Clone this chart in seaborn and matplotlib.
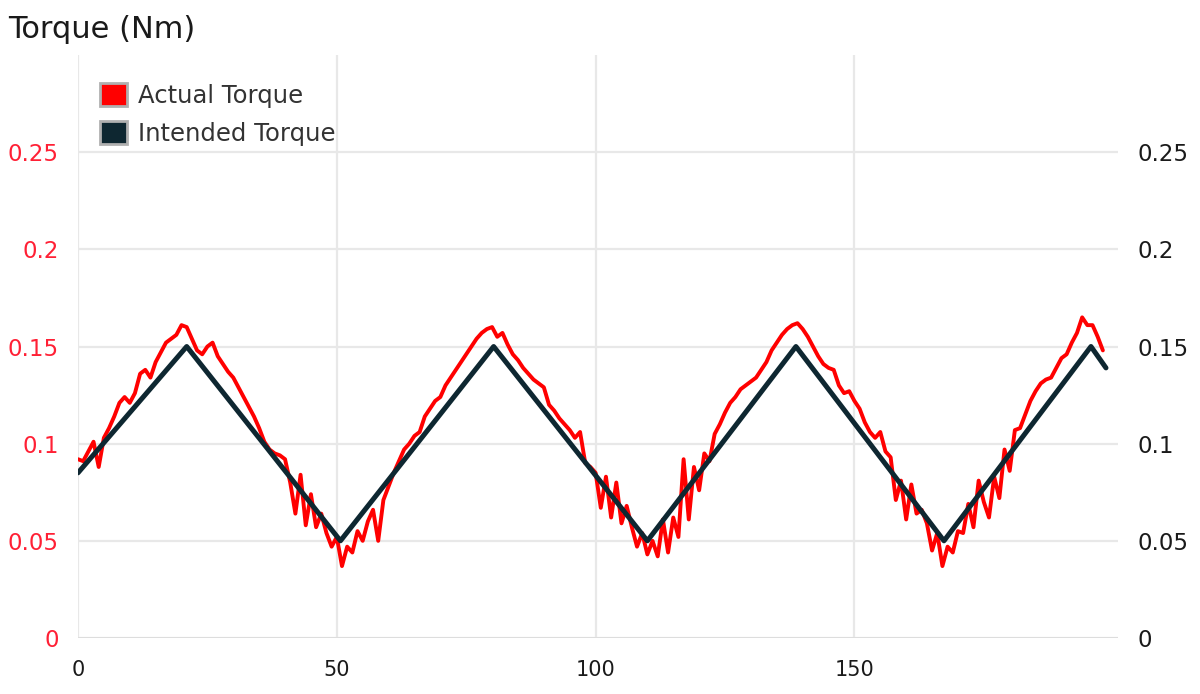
import numpy as np
import pandas as pd
import matplotlib
matplotlib.use("Agg")
import matplotlib.pyplot as plt
from matplotlib.patches import Patch
import seaborn as sns

# actual torque, one sample per step
actual_torque = [
    0.092, 0.091, 0.096, 0.101, 0.088, 0.103, 0.108, 0.114, 0.121, 0.124,
    0.121, 0.126, 0.136, 0.138, 0.134, 0.142, 0.147, 0.152, 0.154, 0.156,
    0.161, 0.160, 0.154, 0.148, 0.146, 0.150, 0.152, 0.145, 0.141, 0.137,
    0.134, 0.129, 0.124, 0.119, 0.114, 0.108, 0.101, 0.097, 0.095, 0.094,
    0.092, 0.080, 0.064, 0.084, 0.058, 0.074, 0.057, 0.064, 0.054, 0.047,
    0.052, 0.037, 0.047, 0.044, 0.055, 0.050, 0.060, 0.066, 0.050, 0.071,
    0.078, 0.085, 0.091, 0.097, 0.100, 0.104, 0.106, 0.114, 0.118, 0.122,
    0.124, 0.130, 0.134, 0.138, 0.142, 0.146, 0.150, 0.154, 0.157, 0.159,
    0.160, 0.155, 0.157, 0.151, 0.146, 0.143, 0.139, 0.136, 0.133, 0.131,
    0.129, 0.120, 0.117, 0.113, 0.110, 0.107, 0.103, 0.106, 0.090, 0.088,
    0.085, 0.067, 0.083, 0.062, 0.080, 0.059, 0.068, 0.057, 0.047, 0.054,
    0.043, 0.050, 0.042, 0.061, 0.044, 0.062, 0.052, 0.092, 0.061, 0.088,
    0.076, 0.095, 0.091, 0.105, 0.110, 0.116, 0.121, 0.124, 0.128, 0.130,
    0.132, 0.134, 0.138, 0.142, 0.148, 0.152, 0.156, 0.159, 0.161, 0.162,
    0.159, 0.155, 0.150, 0.145, 0.141, 0.139, 0.138, 0.130, 0.126, 0.127,
    0.122, 0.118, 0.111, 0.106, 0.103, 0.106, 0.096, 0.093, 0.071, 0.081,
    0.061, 0.079, 0.064, 0.066, 0.059, 0.045, 0.054, 0.037, 0.047, 0.044,
    0.055, 0.054, 0.069, 0.057, 0.081, 0.070, 0.062, 0.083, 0.072, 0.097,
    0.086, 0.107, 0.108, 0.115, 0.122, 0.127, 0.131, 0.133, 0.134, 0.139,
    0.144, 0.146, 0.152, 0.157, 0.165, 0.161, 0.161, 0.155, 0.148,
]
actual_step = list(range(len(actual_torque)))

# intended torque is a triangle wave, given by its corners
intended_step = [0, 21, 50.7, 80.3, 110, 138.7, 167.3, 195.7, 198.6]
intended_torque = [0.085, 0.15, 0.05, 0.15, 0.05, 0.15, 0.05, 0.15, 0.139]

y_ticks = [0, 0.05, 0.1, 0.15, 0.2, 0.25]
y_tick_labels = ["0", "0.05", "0.1", "0.15", "0.2", "0.25"]
x_ticks = [0, 50, 100, 150]

red = "#ff0000"
navy = "#0e2731"

df_act = pd.DataFrame({"step": actual_step, "torque": actual_torque})
df_int = pd.DataFrame({"step": intended_step, "torque": intended_torque})

sns.set_style("white")
plt.rcParams["font.family"] = ["DejaVu Sans"]

fig = plt.figure(figsize=(12, 6.94), dpi=100)
ax = fig.add_axes([0.065, 0.0807, 0.867, 0.84])

sns.lineplot(data=df_act, x="step", y="torque", ax=ax, color=red, lw=2.8, zorder=3)
sns.lineplot(data=df_int, x="step", y="torque", ax=ax, color=navy, lw=3.6, zorder=4)

ax.set_xlim(0, 201)
ax.set_ylim(0, 0.3)
ax.set_xticks(x_ticks)
ax.set_yticks(y_ticks)
ax.set_yticklabels(y_tick_labels)
ax.grid(True, color="#e8e8e8", lw=1.6)
ax.set_axisbelow(True)
for s in ax.spines.values():
    s.set_visible(False)
ax.axhline(0, color="#dcdcdc", lw=2, zorder=1)
ax.tick_params(axis="y", length=0, labelsize=16.5, labelcolor="#ff2035", pad=14)
ax.tick_params(axis="x", length=0, labelsize=15, labelcolor="#1a1a1a", pad=16)
ax.set_xlabel("")
ax.set_ylabel("")

ax2 = ax.twinx()
ax2.set_ylim(0, 0.3)
ax2.set_yticks(y_ticks)
ax2.set_yticklabels(y_tick_labels)
ax2.grid(False)
for s in ax2.spines.values():
    s.set_visible(False)
ax2.tick_params(axis="y", length=0, labelsize=16.5, labelcolor="#1a1a1a", pad=14)

handles = [Patch(facecolor=red, edgecolor="#b0b0b0", lw=2),
           Patch(facecolor=navy, edgecolor="#b0b0b0", lw=2)]
ax.legend(handles, ["Actual Torque", "Intended Torque"], loc="upper left",
          bbox_to_anchor=(0.0, 0.99), frameon=False, fontsize=17.5,
          handlelength=1.1, handleheight=1.1, handletextpad=0.45,
          labelspacing=0.55, labelcolor="#333333")

fig.text(0.007, 0.957, "Torque (Nm)", fontsize=22, color="#1a1a1a", va="center")

fig.savefig("out.png", dpi=100)
